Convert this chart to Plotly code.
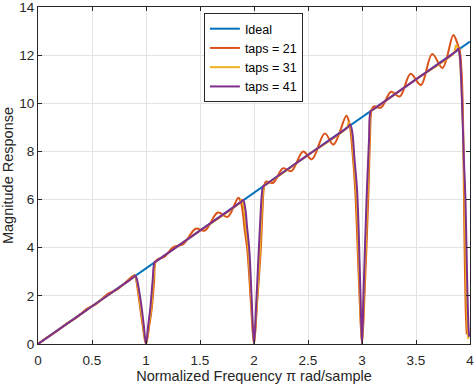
import plotly.graph_objects as go

# ---- data ----
ideal_x = [0, 4]
ideal_y = [0, 12.566]

taps21_x = [0, 0.09, 0.17, 0.265, 0.345, 0.46, 0.54, 0.655, 0.745, 0.84,
            0.895, 0.91, 0.925, 0.945, 0.97, 1.0, 1.03, 1.055, 1.075, 1.095,
            1.17, 1.25, 1.345, 1.46, 1.545, 1.665, 1.755, 1.855, 1.875, 1.895,
            1.915, 1.939, 1.97, 2.0, 2.03, 2.062, 2.078, 2.092, 2.11, 2.175,
            2.27, 2.345, 2.455, 2.535, 2.655, 2.735, 2.855, 2.875, 2.89, 2.917,
            2.938, 2.975, 3.0, 3.025, 3.06, 3.073, 3.09, 3.11, 3.175, 3.27,
            3.35, 3.45, 3.545, 3.65, 3.745, 3.845, 3.87, 3.89, 3.905, 3.922,
            3.935, 3.942, 3.95, 3.96, 3.97]
taps21_y = [0, 0.29, 0.52, 0.85, 1.06, 1.48, 1.67, 2.10, 2.30, 2.68,
            2.86, 2.65, 2.2, 1.55, 0.75, 0, 0.75, 1.55, 2.6, 3.47,
            3.62, 4.02, 4.15, 4.79, 4.71, 5.46, 5.28, 6.08, 5.95, 5.5,
            4.7, 3.88, 1.81, 0, 1.81, 3.88, 5.5, 6.5, 6.75, 6.69,
            7.30, 7.18, 8.00, 7.67, 8.75, 8.29, 9.48, 9.3, 9.0, 7.7,
            6.35, 2.23, 0, 2.23, 6.35, 8.4, 9.75, 9.87, 9.82, 10.48,
            10.28, 11.23, 10.76, 12.05, 11.47, 12.84, 12.65, 12.4, 12.19, 11.3,
            9.5, 7.0, 4.0, 1.5, 0.4]

taps31_x = [0, 0.45, 0.88, 0.9, 0.912, 0.93, 0.952, 0.975, 1.0, 1.025,
            1.048, 1.068, 1.088, 1.103, 1.4, 1.87, 1.885, 1.905, 1.925, 1.948,
            1.975, 2.0, 2.027, 2.055, 2.07, 2.082, 2.097, 2.112, 2.5, 2.86,
            2.875, 2.9, 2.923, 2.946, 2.98, 3.0, 3.02, 3.052, 3.069, 3.085,
            3.1, 3.5, 3.85, 3.87, 3.895, 3.915, 3.935, 3.948, 3.962, 3.975,
            3.985]
taps31_y = [0, 1.41, 2.765, 2.86, 2.68, 2.2, 1.5, 0.75, 0, 0.75,
            1.5, 2.6, 3.43, 3.465, 4.40, 5.875, 6.0, 5.7, 4.8, 3.88,
            1.81, 0, 1.81, 3.88, 5.4, 6.3, 6.62, 6.635, 7.854, 8.985,
            9.2, 8.9, 7.7, 6.35, 2.23, 0, 2.23, 6.35, 8.45, 9.72,
            9.74, 11.0, 12.095, 12.4, 12.2, 11.2, 9.0, 6.5, 3.0, 0.8,
            0.2]

taps41_x = [0, 0.45, 0.88, 0.9, 0.915, 0.935, 0.96, 0.98, 1.0, 1.02,
            1.04, 1.06, 1.08, 1.095, 1.4, 1.88, 1.9, 1.92, 1.935, 1.957,
            1.979, 2.0, 2.022, 2.044, 2.06, 2.072, 2.085, 2.1, 2.5, 2.87,
            2.89, 2.91, 2.93, 2.955, 2.985, 3.0, 3.015, 3.045, 3.065, 3.08,
            3.095, 3.5, 3.87, 3.89, 3.905, 3.918, 3.93, 3.945, 3.958, 3.972,
            3.985, 3.992]
taps41_y = [0, 1.41, 2.765, 2.85, 2.7, 2.25, 1.5, 0.75, 0, 0.75,
            1.5, 2.55, 3.40, 3.44, 4.40, 5.906, 5.98, 5.6, 4.9, 3.88,
            1.81, 0, 1.81, 3.88, 5.3, 6.2, 6.56, 6.60, 7.854, 9.016,
            9.12, 8.8, 7.7, 6.35, 2.23, 0, 2.23, 6.35, 8.5, 9.68,
            9.72, 10.996, 12.158, 12.27, 12.0, 11.0, 9.5, 7.5, 6.0, 3.0,
            0.8, 0.3]

x_ticks = [0, 0.5, 1, 1.5, 2, 2.5, 3, 3.5, 4]
x_tick_labels = ["0", "0.5", "1", "1.5", "2", "2.5", "3", "3.5", "4"]
y_ticks = [0, 2, 4, 6, 8, 10, 12, 14]
y_tick_labels = ["0", "2", "4", "6", "8", "10", "12", "14"]

series = [
    ("Ideal", ideal_x, ideal_y, "#0072BD", "linear"),
    ("taps = 21", taps21_x, taps21_y, "#D95319", "spline"),
    ("taps = 31", taps31_x, taps31_y, "#EDB120", "spline"),
    ("taps = 41", taps41_x, taps41_y, "#7E2F8E", "spline"),
]

FONT = "Liberation Sans, Arial, sans-serif"

fig = go.Figure()
for name, xs, ys, col, shape in series:
    fig.add_trace(go.Scatter(x=xs, y=ys, mode="lines", name=name,
                             line=dict(color=col, width=2, shape=shape)))

axis_common = dict(
    showgrid=True, gridcolor="#e3e3e3", gridwidth=1,
    showline=True, linecolor="#262626", linewidth=1, mirror="ticks",
    ticks="inside", ticklen=4, tickcolor="#262626",
    tickfont=dict(family=FONT, size=13.5, color="#262626"),
    zeroline=False, automargin=False, ticklabeloverflow="allow",
)

fig.update_xaxes(range=[0, 4], tickvals=x_ticks, ticktext=x_tick_labels,
                 ticklabelstandoff=4,
                 title=dict(text="Normalized Frequency π rad/sample",
                            font=dict(family=FONT, size=14.5, color="#262626"),
                            standoff=3),
                 **axis_common)
fig.update_yaxes(range=[0, 14], tickvals=y_ticks, ticktext=y_tick_labels,
                 title=dict(text="Magnitude Response",
                            font=dict(family=FONT, size=14.5, color="#262626"),
                            standoff=2),
                 **axis_common)

fig.update_layout(
    width=474, height=386,
    margin=dict(l=38, r=4, t=7, b=42),
    plot_bgcolor="white", paper_bgcolor="white",
    legend=dict(x=0.384, y=0.982, xanchor="left", yanchor="top",
                bgcolor="white", bordercolor="#262626", borderwidth=1,
                font=dict(family=FONT, size=12.5, color="#000000"),
                tracegroupgap=0),
    showlegend=True,
)

fig.write_html("out.html",
               config={"displayModeBar": False},
               post_script="document.body.style.margin='0';document.body.style.overflow='hidden';")
